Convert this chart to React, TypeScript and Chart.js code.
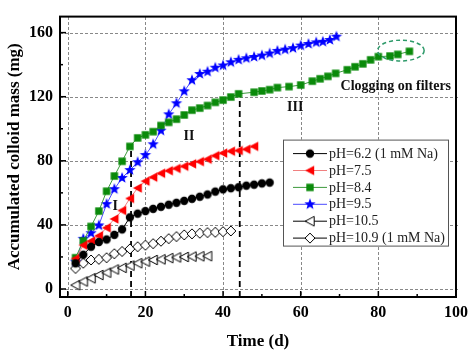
import React, { useEffect, useRef } from 'react';
import { Chart, registerables } from 'chart.js';

Chart.register(...registerables);

// ---- data ----
const seriesLabels = ['pH=6.2 (1 mM Na)', 'pH=7.5', 'pH=8.4', 'pH=9.5', 'pH=10.5', 'pH=10.9 (1 mM Na)'];

const time62 = [2, 4, 6, 8, 10, 12, 14, 16, 18, 20, 22, 24, 26, 28, 30, 32, 34, 36, 38, 40, 42, 44, 46, 48, 50, 52];
const mass62 = [16, 21.4, 26.4, 29.3, 30.9, 33.8, 37.2, 44.7, 47.0, 48.6, 50, 51.3, 52.6, 53.8, 55, 56.3, 57.6, 59, 60.8, 62.2, 62.9, 63.5, 64.5, 65.1, 65.9, 66.4];

const time75 = [2, 4, 6, 8, 10, 12, 14, 16, 18, 20, 22, 24, 26, 28, 30, 32, 34, 36, 38, 40, 42, 44, 46, 48];
const mass75 = [19, 27.3, 29.9, 33.2, 38.2, 43.7, 49, 56.5, 63, 67.3, 69.8, 72.2, 73.8, 75.2, 76.6, 78.1, 79.5, 81, 83.2, 84.8, 86, 86.4, 87.2, 89];

const time84 = [2, 4, 6, 8, 10, 12, 14, 16, 18, 20, 22, 24, 26, 28, 30, 32, 34, 36, 38, 40, 42, 44, 48, 50, 52, 54, 57, 60, 63, 65, 67, 69, 72, 74, 76, 78, 80, 83, 85, 88];
const mass84 = [19.5, 30, 39, 48.6, 61, 70.5, 79.7, 89, 94.3, 96.2, 98.2, 102, 104, 106, 108.6, 111.6, 112.9, 114.5, 116.5, 117.9, 119.8, 121.8, 122.8, 123.6, 124.4, 125.7, 126.3, 127.3, 129.7, 131.2, 132.7, 134.6, 136.8, 138.7, 140.5, 143, 145, 145.4, 146.4, 148.3];

const time95 = [2, 4, 6, 8, 10, 12, 14, 16, 18, 20, 22, 24, 26, 28, 30, 32, 34, 36, 38, 40, 42, 44, 46, 48, 50, 52, 54, 56, 58, 60, 62, 64, 65.7, 67.5, 69.2];
const mass95 = [17.1, 31.3, 34.8, 39.7, 53, 62.3, 69.3, 74.2, 79.1, 83.6, 90.3, 98.8, 109, 115.9, 123.4, 130.3, 134.2, 135.6, 138.1, 139.5, 141.5, 143, 144, 144.8, 145.7, 147, 148.6, 149.4, 150.3, 151.9, 152.9, 153.9, 154.3, 155.4, 157.5];

const time105 = [2, 4, 6, 8, 10, 12, 14, 16, 18, 20, 22, 24, 26, 28, 30, 32, 34, 36];
const mass105 = [2.4, 4.7, 6.7, 8.7, 10.2, 12.2, 13.2, 14.6, 16.1, 17.1, 18.1, 18.5, 19.3, 19.7, 20, 20.2, 20.4, 20.5];

const time109 = [2, 4, 6, 8, 10, 12, 14, 16, 18, 20, 22, 24, 26, 28, 30, 32, 34, 36, 38, 40, 42];
const mass109 = [12.8, 16.1, 18.1, 18.5, 19.5, 22, 23.4, 25, 26.4, 27.3, 28.3, 29.8, 31.4, 32.7, 33.8, 34.4, 34.8, 35.2, 35.4, 35.8, 36.2];

// stage boundaries (dashed vertical lines): x position and top value
const boundaryTimes = [16.3, 44.3];
const boundaryTops = [90, 121.5];

// annotations
const noteTexts = ['I', 'II', 'III', 'Clogging on filters'];
const noteTimes = [12.2, 31.2, 58.6, 84.5];
const noteMasses = [51.5, 95, 113.5, 126.3];

// clogging ellipse (data units)
const clogCenter = [85.8, 148.8];
const clogRadii = [6, 6.5];

const xTicks = [0, 20, 40, 60, 80, 100];
const yTicks = [0, 40, 80, 120, 160];
const xMinor = [10, 30, 50, 70, 90];
const yMinor = [20, 60, 100, 140];

const FONT = '"Liberation Serif", "Times New Roman", serif';

function makeMarker(kind: string): HTMLCanvasElement {
  const s = 14;
  const c = document.createElement('canvas');
  c.width = s;
  c.height = s;
  const g = c.getContext('2d')!;
  g.translate(s / 2, s / 2);
  g.lineWidth = 1;
  if (kind === 'circle') {
    g.beginPath();
    g.arc(0, 0, 4.2, 0, Math.PI * 2);
    g.fillStyle = '#000';
    g.fill();
  } else if (kind === 'triL' || kind === 'triLOpen') {
    g.beginPath();
    g.moveTo(-4.8, 0);
    g.lineTo(4.2, -4.8);
    g.lineTo(4.2, 4.8);
    g.closePath();
    if (kind === 'triL') {
      g.fillStyle = '#ff0000';
      g.fill();
    } else {
      g.fillStyle = '#fff';
      g.fill();
      g.strokeStyle = '#000';
      g.stroke();
    }
  } else if (kind === 'square') {
    g.fillStyle = '#0a8a0a';
    g.fillRect(-3.7, -3.7, 7.4, 7.4);
  } else if (kind === 'star') {
    g.beginPath();
    for (let i = 0; i < 10; i++) {
      const r = i % 2 === 0 ? 6 : 2.5;
      const a = -Math.PI / 2 + (i * Math.PI) / 5;
      const px = r * Math.cos(a);
      const py = r * Math.sin(a);
      if (i === 0) g.moveTo(px, py);
      else g.lineTo(px, py);
    }
    g.closePath();
    g.fillStyle = '#0000ff';
    g.fill();
  } else if (kind === 'diamond') {
    g.beginPath();
    g.moveTo(0, -5);
    g.lineTo(5, 0);
    g.lineTo(0, 5);
    g.lineTo(-5, 0);
    g.closePath();
    g.fillStyle = '#fff';
    g.fill();
    g.strokeStyle = '#000';
    g.stroke();
  }
  return c;
}

const zip = (xs: number[], ys: number[]) => xs.map((x, i) => ({ x, y: ys[i] }));

export default function App() {
  const ref = useRef<HTMLCanvasElement | null>(null);

  useEffect(() => {
    const canvas = ref.current;
    if (!canvas) return;

    const markers = [
      makeMarker('circle'),
      makeMarker('triL'),
      makeMarker('square'),
      makeMarker('star'),
      makeMarker('triLOpen'),
      makeMarker('diamond'),
    ];
    const lineColors = ['#000000', '#f08080', '#3c9a3c', '#4a4aff', '#000000', '#000000'];
    const seriesData = [
      zip(time62, mass62),
      zip(time75, mass75),
      zip(time84, mass84),
      zip(time95, mass95),
      zip(time105, mass105),
      zip(time109, mass109),
    ];

    const datasets: any[] = seriesData.map((d, i) => ({
      label: seriesLabels[i],
      data: d,
      showLine: true,
      fill: false,
      borderColor: lineColors[i],
      backgroundColor: lineColors[i],
      borderWidth: 1,
      pointStyle: markers[i],
      pointRadius: 4,
      order: i,
    }));

    boundaryTimes.forEach((t, i) => {
      datasets.push({
        label: 'boundary' + i,
        data: [
          { x: t, y: -5 },
          { x: t, y: boundaryTops[i] },
        ],
        showLine: true,
        fill: false,
        borderColor: '#000',
        borderWidth: 1.8,
        borderDash: [6, 4],
        pointRadius: 0,
        order: 10 + i,
      });
    });

    const decorPlugin = {
      id: 'decor',
      beforeDatasetsDraw(chart: any) {
        const { ctx, chartArea, scales } = chart;
        ctx.save();
        ctx.fillStyle = '#888888';
        const top = Math.round(chartArea.top);
        const bottom = Math.round(chartArea.bottom);
        const left = Math.round(chartArea.left);
        const right = Math.round(chartArea.right);
        xTicks.forEach((v) => {
          const p = Math.round(scales.x.getPixelForValue(v));
          for (let y = top; y < bottom; y += 5) ctx.fillRect(p, y, 1, 3);
        });
        yTicks.forEach((v) => {
          const p = Math.round(scales.y.getPixelForValue(v));
          for (let x = left; x < right; x += 5) ctx.fillRect(x, p, 3, 1);
        });
        ctx.restore();
      },
      afterDatasetsDraw(chart: any) {
        const { ctx, chartArea, scales } = chart;
        const xs = scales.x;
        const ys = scales.y;
        ctx.save();

        // clogging ellipse
        const cx = xs.getPixelForValue(clogCenter[0]);
        const cy = ys.getPixelForValue(clogCenter[1]);
        const rx = Math.abs(xs.getPixelForValue(clogCenter[0] + clogRadii[0]) - cx);
        const ry = Math.abs(ys.getPixelForValue(clogCenter[1] + clogRadii[1]) - cy);
        ctx.beginPath();
        ctx.ellipse(cx, cy, rx, ry, 0, 0, Math.PI * 2);
        ctx.setLineDash([4, 3]);
        ctx.strokeStyle = '#2e9a6a';
        ctx.lineWidth = 1.5;
        ctx.stroke();
        ctx.setLineDash([]);

        // annotations
        ctx.fillStyle = '#111';
        ctx.textAlign = 'center';
        ctx.textBaseline = 'middle';
        noteTexts.forEach((t, i) => {
          ctx.font = 'bold 14px ' + FONT;
          ctx.fillText(t, xs.getPixelForValue(noteTimes[i]), ys.getPixelForValue(noteMasses[i]));
        });

        // inward ticks
        ctx.strokeStyle = '#000';
        ctx.lineWidth = 1.5;
        const b = chartArea.bottom;
        const l = chartArea.left;
        xTicks.forEach((v) => {
          const p = xs.getPixelForValue(v);
          ctx.beginPath();
          ctx.moveTo(p, b);
          ctx.lineTo(p, b - 6);
          ctx.stroke();
        });
        xMinor.forEach((v) => {
          const p = xs.getPixelForValue(v);
          ctx.beginPath();
          ctx.moveTo(p, b);
          ctx.lineTo(p, b - 3);
          ctx.stroke();
        });
        yTicks.forEach((v) => {
          const p = ys.getPixelForValue(v);
          ctx.beginPath();
          ctx.moveTo(l, p);
          ctx.lineTo(l + 6, p);
          ctx.stroke();
        });
        yMinor.forEach((v) => {
          const p = ys.getPixelForValue(v);
          ctx.beginPath();
          ctx.moveTo(l, p);
          ctx.lineTo(l + 3, p);
          ctx.stroke();
        });

        // frame
        ctx.lineWidth = 2;
        ctx.strokeRect(chartArea.left, chartArea.top, chartArea.right - chartArea.left, chartArea.bottom - chartArea.top);

        // legend
        const bw = 165;
        const bh = 106;
        const bx = chartArea.right - 8 - bw;
        const by = chartArea.top + 123;
        ctx.fillStyle = '#fff';
        ctx.fillRect(bx, by, bw, bh);
        ctx.lineWidth = 1;
        ctx.strokeStyle = '#555';
        ctx.strokeRect(bx + 0.5, by + 0.5, bw, bh);
        ctx.font = '14px ' + FONT;
        ctx.textAlign = 'left';
        ctx.textBaseline = 'middle';
        seriesLabels.forEach((lab, i) => {
          const yy = by + 14 + i * 16.9;
          ctx.beginPath();
          ctx.moveTo(bx + 10, yy);
          ctx.lineTo(bx + 44, yy);
          ctx.strokeStyle = lineColors[i];
          ctx.lineWidth = 1;
          ctx.stroke();
          const m = markers[i];
          ctx.drawImage(m, bx + 27 - m.width / 2, yy - m.height / 2);
          ctx.fillStyle = '#222';
          ctx.fillText(lab, bx + 46, yy + 0.5);
        });

        ctx.restore();
      },
    };

    const chart = new Chart(canvas, {
      type: 'scatter',
      data: { datasets },
      options: {
        animation: false,
        responsive: false,
        devicePixelRatio: 1,
        layout: { padding: { left: 0, right: 15, top: 1, bottom: 0 }, autoPadding: false },
        plugins: { legend: { display: false }, tooltip: { enabled: false } },
        scales: {
          x: {
            type: 'linear',
            min: -2,
            max: 100,
            afterBuildTicks: (s: any) => {
              s.ticks = xTicks.map((v) => ({ value: v }));
            },
            afterFit: (s: any) => {
              s.height = 56;
            },
            grid: { display: false, drawTicks: false },
            border: { display: true, color: '#000', width: 2 },
            ticks: { color: '#000', padding: 6, font: { family: FONT, size: 16, weight: 'bold' } },
            title: {
              display: true,
              text: 'Time (d)',
              color: '#000',
              font: { family: FONT, size: 17, weight: 'bold' },
              padding: { top: 0, bottom: 1 },
            },
          },
          y: {
            type: 'linear',
            min: -5,
            max: 170,
            afterBuildTicks: (s: any) => {
              s.ticks = yTicks.map((v) => ({ value: v }));
            },
            afterFit: (s: any) => {
              s.width = 60;
            },
            grid: { display: false, drawTicks: false },
            border: { display: true, color: '#000', width: 2 },
            ticks: { color: '#000', padding: 7, font: { family: FONT, size: 16, weight: 'bold' } },
            title: {
              display: true,
              text: 'Accumulated colloid mass (mg)',
              color: '#000',
              font: { family: FONT, size: 17, weight: 'bold' },
              padding: { top: 4, bottom: 0 },
            },
          },
        },
      } as any,
      plugins: [decorPlugin],
    });

    return () => chart.destroy();
  }, []);

  return (
    <div style={{ position: 'fixed', left: 0, top: 0, width: 474, height: 353, background: '#fff' }}>
      <canvas ref={ref} width={474} height={353} style={{ display: 'block' }} />
    </div>
  );
}
